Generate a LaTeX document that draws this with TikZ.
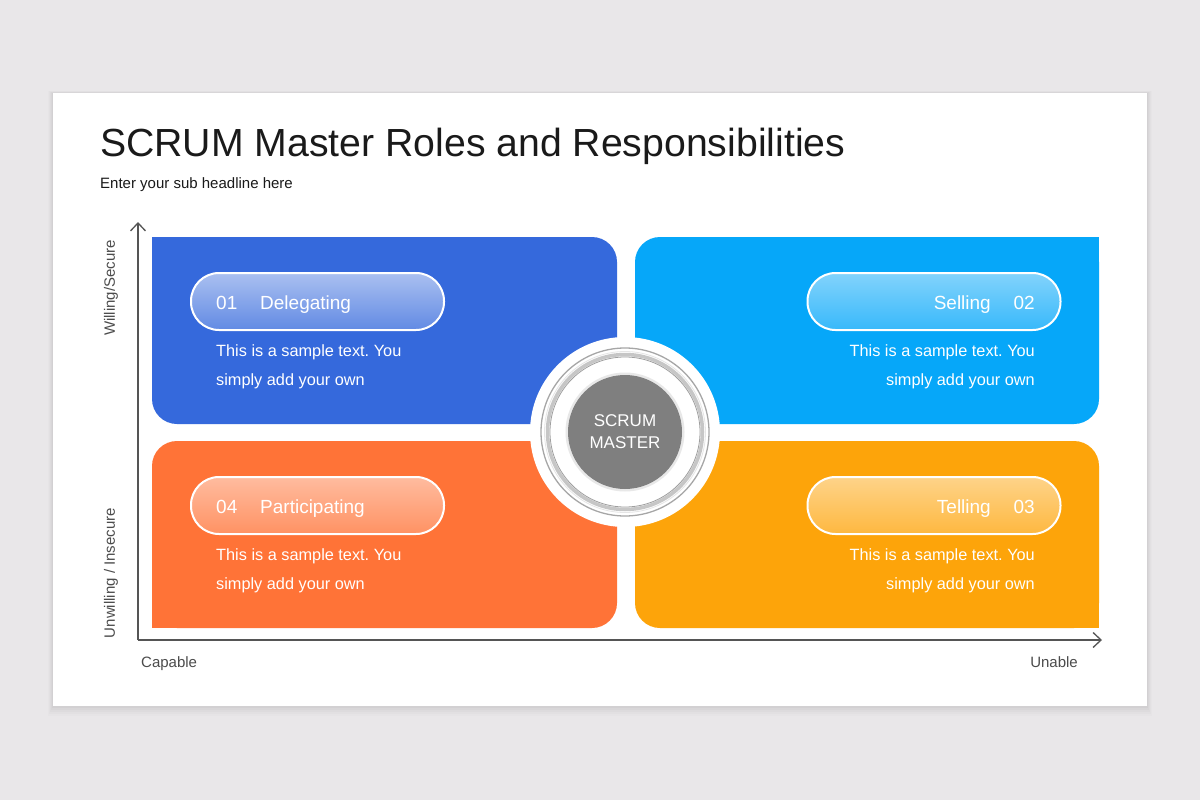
\documentclass[tikz,border=0pt]{standalone}
\usepackage{fontspec}
\setmainfont{Liberation Sans}
\usetikzlibrary{arrows.meta}
\frenchspacing
\definecolor{bg}{HTML}{E9E7E9}
\definecolor{qblue}{HTML}{3569DC}
\definecolor{qcyan}{HTML}{06A7F9}
\definecolor{qorange}{HTML}{FF7337}
\definecolor{qamber}{HTML}{FDA40A}
\definecolor{axisgray}{HTML}{555555}
\definecolor{titlecol}{HTML}{1A1A1A}
\definecolor{discgray}{HTML}{7F7F7F}
\tikzset{
  pill/.style={draw=white, line width=2pt, rectangle, rounded corners=28pt,
    minimum width=253pt, minimum height=57pt, inner sep=0pt},
  pilltext/.style={text=white, font=\fontsize{19}{22}\selectfont, inner sep=0pt},
  bodytext/.style={text=white, font=\fontsize{16.3}{19}\selectfont, inner sep=0pt},
  axislabel/.style={text=axisgray!90!black, font=\fontsize{15}{18}\selectfont, inner sep=0pt},
  axisline/.style={draw=axisgray, line width=1.4pt, -{Straight Barb[length=8pt,width=15pt,line width=1.3pt]}},
}
\begin{document}
\begin{tikzpicture}[x=1pt,y=-1pt]
\useasboundingbox (0,0) rectangle (1200,800);
\fill[bg] (0,0) rectangle (1200,800);
% card shadow
\foreach \d/\o in {10/0.012,8/0.015,6/0.018,4/0.02,2/0.025}{
  \fill[black, opacity=\o] (53-\d*0.5,93-\d*0.2) rectangle (1147+\d*0.5,706+\d);
}
\fill[white] (53,93) rectangle (1147,706);

% title
\node[anchor=base west, text=titlecol, font=\fontsize{39.2}{46}\selectfont, inner sep=0pt] (title) at (100,156) {SCRUM Master Roles and Responsibilities};
\node[anchor=base west, text=titlecol, font=\fontsize{15}{18}\selectfont, inner sep=0pt] (sub) at (100,188) {Enter your sub headline here};

% quadrants
\fill[qblue, rounded corners=25pt] (152,237) rectangle (617,424);
\fill[qblue] (152,237) rectangle (200,280);
\fill[qcyan, rounded corners=25pt] (635,237) rectangle (1099,424);
\fill[qcyan] (1050,237) rectangle (1099,280);
\fill[qorange, rounded corners=25pt] (152,441) rectangle (617,628);
\fill[qorange] (152,580) rectangle (200,628);
\fill[qamber, rounded corners=25pt] (635,441) rectangle (1099,628);
\fill[qamber] (1050,580) rectangle (1099,628);

% axes
\coordinate (origin) at (138,640);
\coordinate (ytop) at (138,222);
\coordinate (xend) at (1102,640);
\draw[axisline] (origin) -- (ytop);
\draw[axisline] (origin) -- (xend);
\node[axislabel, rotate=90] (willing) at (111,288) {Willing/Secure};
\node[axislabel, rotate=90] (unwilling) at (111,573) {Unwilling / Insecure};
\node[axislabel, anchor=base west] (capable) at (141,667) {Capable};
\node[axislabel, anchor=base east] (unable) at (1078,667) {Unable};

% pills
\node[pill, top color=qblue!42!white, bottom color=qblue!78!white] (p1) at (317.5,301.5) {};
\node[pill, top color=qcyan!50!white, bottom color=qcyan!80!white] (p2) at (934,301.5) {};
\node[pill, top color=qorange!48!white, bottom color=qorange!78!white] (p4) at (317.5,505.5) {};
\node[pill, top color=qamber!48!white, bottom color=qamber!78!white] (p3) at (934,505.5) {};

\node[pilltext, anchor=base west] (n1) at (216,309) {01};
\node[pilltext, anchor=base west] (t1) at (260,309) {Delegating};
\node[pilltext, anchor=base east] (n2) at (1035,309) {02};
\node[pilltext, anchor=base east] (t2) at (991,309) {Selling};
\node[pilltext, anchor=base west] (n4) at (216,513) {04};
\node[pilltext, anchor=base west] (t4) at (260,513) {Participating};
\node[pilltext, anchor=base east] (n3) at (1035,513) {03};
\node[pilltext, anchor=base east] (t3) at (991,513) {Telling};

% body texts
\node[bodytext, anchor=base west] (b1a) at (216,356) {This is a sample text. You};
\node[bodytext, anchor=base west] (b1b) at (216,385) {simply add your own};
\node[bodytext, anchor=base east] (b2a) at (1035,356) {This is a sample text. You};
\node[bodytext, anchor=base east] (b2b) at (1035,385) {simply add your own};
\node[bodytext, anchor=base west] (b4a) at (216,560) {This is a sample text. You};
\node[bodytext, anchor=base west] (b4b) at (216,589) {simply add your own};
\node[bodytext, anchor=base east] (b3a) at (1035,560) {This is a sample text. You};
\node[bodytext, anchor=base east] (b3b) at (1035,589) {simply add your own};

% center
\coordinate (c) at (625,432);
\fill[white] (c) circle[radius=95];
\draw[gray!70, line width=1.3pt] (c) circle[radius=84];
\draw[gray!20, line width=0.8pt] (c) circle[radius=80.5];
\draw[gray!45, line width=3.5pt] (c) circle[radius=77.5];
\draw[gray!75, line width=0.8pt] (c) circle[radius=75];
\fill[gray!18] (c) circle[radius=59.5];
\fill[discgray] (c) circle[radius=57];
\node[text=white, font=\fontsize{17}{22}\selectfont, align=center, inner sep=0pt] (center) at (c) {SCRUM\\MASTER};
\end{tikzpicture}
\end{document}
